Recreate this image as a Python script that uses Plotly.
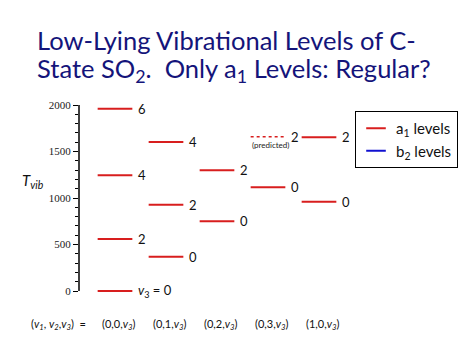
import plotly.graph_objects as go

# ---- data ----
columns = ["(0,0,<i>v</i><sub><i>3</i></sub>)", "(0,1,<i>v</i><sub><i>3</i></sub>)",
           "(0,2,<i>v</i><sub><i>3</i></sub>)", "(0,3,<i>v</i><sub><i>3</i></sub>)",
           "(1,0,<i>v</i><sub><i>3</i></sub>)"]
level_col = [0, 0, 0, 0, 1, 1, 1, 2, 2, 3, 4, 4]
level_energy = [0, 559, 1244, 1960, 369, 928, 1602, 749, 1298, 1115, 960, 1652]
level_v3 = ["<i>v</i><sub>3</sub> = 0", "2", "4", "6", "0", "2", "4", "0", "2", "0", "0", "2"]
pred_col = [3]
pred_energy = [1659]
pred_v3 = ["2"]
ytick_vals = [0, 500, 1000, 1500, 2000]

RED = "#d81e1e"
NAVY = "#14147a"
HALF = 0.34

W, H = 474, 355
ML, MR, MT, MB = 79, 0, 100, 55
PW, PH = W - ML - MR, H - MT - MB
px_per_col = 51.0
col0_px = 115.0
x0 = (ML - col0_px) / px_per_col
x1 = x0 + PW / px_per_col
scale = 186.0 / 2000.0
y0 = (291 - (H - MB)) / scale
y1 = (291 - MT) / scale


def px(x):
    return (x - ML) / PW


def py(y):
    return 1 - (y - MT) / PH


fig = go.Figure()

xs, ys = [], []
for c, e in zip(level_col, level_energy):
    xs += [c - HALF, c + HALF, None]
    ys += [e, e, None]
fig.add_trace(go.Scatter(x=xs, y=ys, mode="lines", line=dict(color=RED, width=2),
                         showlegend=False, hoverinfo="skip"))
pxs, pys = [], []
for c, e in zip(pred_col, pred_energy):
    pxs += [c - HALF, c + HALF, None]
    pys += [e, e, None]
fig.add_trace(go.Scatter(x=pxs, y=pys, mode="lines", line=dict(color=RED, width=1.5, dash="dot"),
                         showlegend=False, hoverinfo="skip"))

# legend entries
fig.add_trace(go.Scatter(x=[None], y=[None], mode="markers", name="a<sub>1</sub> levels",
                         marker=dict(symbol="line-ew-open", size=14, color=RED,
                                     line=dict(color=RED, width=2))))
fig.add_trace(go.Scatter(x=[None], y=[None], mode="markers", name="b<sub>2</sub> levels",
                         marker=dict(symbol="line-ew-open", size=14, color="#1010d0",
                                     line=dict(color="#1010d0", width=2))))

ann_font = dict(family="Lato", size=13, color="#111")
for c, e, t in zip(level_col, level_energy, level_v3):
    fig.add_annotation(x=c + HALF, y=e, text=t, showarrow=False, xanchor="left",
                       yanchor="middle", xshift=4, font=ann_font)
for c, e, t in zip(pred_col, pred_energy, pred_v3):
    fig.add_annotation(x=c + HALF, y=e, text=t, showarrow=False, xanchor="left",
                       yanchor="middle", xshift=4, font=ann_font)
    fig.add_annotation(x=c - HALF, y=e, text="(predicted)", showarrow=False, xanchor="left",
                       yanchor="top", xshift=-1, yshift=-1,
                       font=dict(family="Lato", size=8, color="#222"))

# column labels
for i, lab in enumerate(columns):
    fig.add_annotation(x=i, y=py(324), yref="paper", text=lab, showarrow=False,
                       xanchor="center", yanchor="middle", xshift=3,
                       font=dict(family="Lato", size=11, color="#111"))

fig.update_layout(
    width=W, height=H,
    margin=dict(l=ML, r=MR, t=MT, b=MB),
    paper_bgcolor="white", plot_bgcolor="white",
    showlegend=True,
    legend=dict(x=px(355), y=py(111),
                xanchor="left", yanchor="top", bordercolor="black", borderwidth=1,
                bgcolor="white", font=dict(family="Lato", size=15, color="#111"),
                itemwidth=30, tracegroupgap=0),
    xaxis=dict(range=[x0, x1], visible=False, fixedrange=True),
    yaxis=dict(range=[y0, y1], tickvals=ytick_vals, ticks="outside", ticklen=5,
               tickcolor="black", tickwidth=1.2, showgrid=False, zeroline=False,
               showline=False,
               tickfont=dict(family="Liberation Serif", size=11, color="#222"),
               minor=dict(ticks="outside", ticklen=3, dtick=100, tick0=0,
                          tickcolor="black", showgrid=False)),
    shapes=[dict(type="line", xref="paper", yref="y", x0=0, x1=0, y0=0, y1=2000,
                 line=dict(color="black", width=1.5))],
)

# title lines
fig.add_annotation(x=px(35), y=py(23), xref="paper", yref="paper", xanchor="left",
                   yanchor="top", showarrow=False,
                   text="Low-Lying Vibrational Levels of C-",
                   font=dict(family="Lato", size=25.5, color=NAVY))
fig.add_annotation(x=px(35), y=py(51), xref="paper", yref="paper", xanchor="left",
                   yanchor="top", showarrow=False,
                   text="State SO<sub>2</sub>.  Only a<sub>1</sub> Levels: Regular?",
                   font=dict(family="Lato", size=25.5, color=NAVY))
fig.add_annotation(x=px(29), y=py(324), xref="paper", yref="paper", xanchor="left",
                   yanchor="middle", showarrow=False,
                   text="(<i>v</i><sub><i>1</i></sub>, <i>v</i><sub><i>2</i></sub>,<i>v</i><sub><i>3</i></sub>)  =",
                   font=dict(family="Lato", size=11, color="#111"))
fig.add_annotation(x=px(33), y=py(181), xref="paper", yref="paper", xanchor="center",
                   yanchor="middle", showarrow=False,
                   text="<i>T</i><sub><i>vib</i></sub>",
                   font=dict(family="Lato", size=15, color="#111"))

fig.write_html("out.html")
